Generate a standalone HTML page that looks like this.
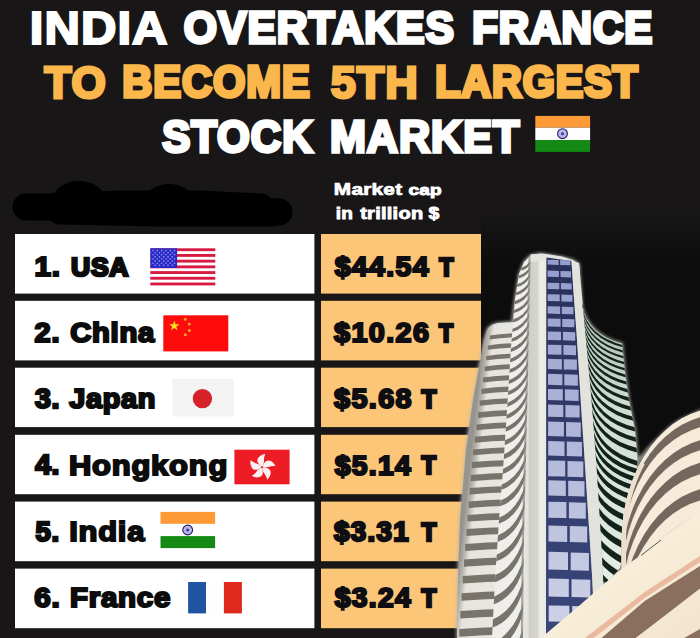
<!DOCTYPE html>
<html><head><meta charset="utf-8">
<style>
html,body{margin:0;padding:0;background:#181617;}
body{width:700px;height:638px;overflow:hidden;font-family:"Liberation Sans",sans-serif;}
svg{display:block}
text{font-family:"Liberation Sans",sans-serif;font-weight:bold;stroke-linejoin:miter}
</style></head><body>
<svg width="700" height="638" viewBox="0 0 700 638">
<rect width="700" height="638" fill="#181617"/>
<!-- TITLE -->
<g id="title">
<text transform="translate(29.8,43.9) scale(1.050,1)" font-size="46.7" letter-spacing="1.0" stroke-width="2.11" fill="#fff" stroke="#fff">INDIA</text>
<text transform="translate(183.8,43.3) scale(0.953,1)" font-size="44.8" letter-spacing="1.0" stroke-width="3.38" fill="#fff" stroke="#fff">OVERTAKES</text>
<text transform="translate(472.2,43.2) scale(0.944,1)" font-size="44.6" letter-spacing="1.0" stroke-width="3.50" fill="#fff" stroke="#fff">FRANCE</text>
<text transform="translate(44.4,97.6) scale(0.985,1)" font-size="44.7" letter-spacing="1.0" stroke-width="3.14" fill="#fbb74c" stroke="#fbb74c">TO</text>
<text transform="translate(122.2,97.4) scale(0.945,1)" font-size="44.1" letter-spacing="1.0" stroke-width="3.58" fill="#fbb74c" stroke="#fbb74c">BECOME</text>
<text transform="translate(330.8,97.8) scale(0.999,1)" font-size="45.1" letter-spacing="1.0" stroke-width="2.90" fill="#fbb74c" stroke="#fbb74c">5TH</text>
<text transform="translate(435.2,97.4) scale(0.939,1)" font-size="43.9" letter-spacing="1.0" stroke-width="3.69" fill="#fbb74c" stroke="#fbb74c">LARGEST</text>
<text transform="translate(162.2,151.5) scale(0.940,1)" font-size="44.8" letter-spacing="1.0" stroke-width="3.41" fill="#fff" stroke="#fff">STOCK</text>
<text transform="translate(329.9,151.6) scale(0.959,1)" font-size="45.0" letter-spacing="1.0" stroke-width="3.28" fill="#fff" stroke="#fff">MARKET</text>
</g>
<!-- TITLE FLAG -->
<g id="tflag">
<rect x="535.3" y="115.9" width="54.8" height="11.8" fill="#fe9a36"/>
<rect x="535.3" y="127.7" width="54.8" height="12.3" fill="#fefefe"/>
<rect x="535.3" y="140" width="54.8" height="11.9" fill="#148a14"/>
<circle cx="562.5" cy="133.7" r="4.9" fill="#b9b6e2" stroke="#20206e" stroke-width="1.1"/>
<circle cx="562.5" cy="133.7" r="1.5" fill="#3a3aa0"/>
</g>
<!-- SCRIBBLE -->
<g id="scribble" fill="none" stroke="#000" stroke-linecap="round" stroke-linejoin="round">
<path d="M26,207 L150,207 L279,212" stroke-width="27"/>
<path d="M60,212 L160,214 L272,214" stroke-width="25"/>
<path d="M55,203 L120,201 L200,201 L262,204" stroke-width="21"/>
<ellipse cx="79" cy="198" rx="25" ry="17" fill="#000" stroke="none"/>
<ellipse cx="169" cy="199" rx="23" ry="15" fill="#000" stroke="none"/>
</g>
<!-- HEADER -->
<g id="header">
<text transform="translate(333.8,194.8) scale(1.308,1)" font-size="15.9" letter-spacing="0.2" stroke-width="0.71" fill="#fff" stroke="#fff">Market</text>
<text transform="translate(408.5,194.7) scale(1.224,1)" font-size="15.5" letter-spacing="0.2" stroke-width="1.00" fill="#fff" stroke="#fff">cap</text>
<text transform="translate(335.8,219.2) scale(1.210,1)" font-size="15.8" letter-spacing="0.2" stroke-width="0.80" fill="#fff" stroke="#fff">in</text>
<text transform="translate(360.2,219.2) scale(1.268,1)" font-size="15.8" letter-spacing="0.2" stroke-width="0.82" fill="#fff" stroke="#fff">trillion</text>
<text transform="translate(428.4,219.2) scale(1.235,1)" font-size="15.8" letter-spacing="0.2" stroke-width="0.80" fill="#fff" stroke="#fff">&#36;</text>
</g>
<!-- BLACKBG -->
<defs><linearGradient id="gbk" gradientUnits="userSpaceOnUse" x1="0" x2="0" y1="212" y2="268"><stop offset="0" stop-color="#0c0c0c" stop-opacity="0"/><stop offset="1" stop-color="#0c0c0c" stop-opacity="1"/></linearGradient></defs>
<rect x="481" y="212" width="219" height="426" fill="url(#gbk)"/>
<!-- ROWS -->
<g id="rows">
<rect x="15" y="234" width="299.4" height="59.6" fill="#fff"/>
<rect x="15" y="300.8" width="299.4" height="59.6" fill="#fff"/>
<rect x="15" y="367.7" width="299.4" height="59.4" fill="#fff"/>
<rect x="15" y="434.8" width="299.4" height="59.4" fill="#fff"/>
<rect x="15" y="501.6" width="299.4" height="59.6" fill="#fff"/>
<rect x="15" y="568.6" width="299.4" height="59.6" fill="#fff"/>
<rect x="321" y="234" width="160" height="59.6" fill="#fcc679"/>
<rect x="321" y="300.8" width="160" height="59.6" fill="#fcc679"/>
<rect x="321" y="367.7" width="160" height="59.4" fill="#fcc679"/>
<rect x="321" y="434.8" width="160" height="59.4" fill="#fcc679"/>
<rect x="321" y="501.6" width="160" height="59.6" fill="#fcc679"/>
<rect x="321" y="568.6" width="160" height="59.6" fill="#fcc679"/>
</g>
<g id="labels">
<text transform="translate(34.4,276.3) scale(1.085,1)" font-size="27.4" letter-spacing="0.7" stroke-width="2.09" fill="#0c0c0c" stroke="#0c0c0c">1.</text>
<text transform="translate(71.1,276.0) scale(0.998,1)" font-size="26.6" letter-spacing="0.7" stroke-width="2.62" fill="#0c0c0c" stroke="#0c0c0c">USA</text>
<text transform="translate(34.6,342.1) scale(1.060,1)" font-size="27.3" letter-spacing="0.7" stroke-width="2.19" fill="#0c0c0c" stroke="#0c0c0c">2.</text>
<text transform="translate(70.2,342.1) scale(1.069,1)" font-size="27.3" letter-spacing="0.7" stroke-width="2.17" fill="#0c0c0c" stroke="#0c0c0c">China</text>
<text transform="translate(34.9,408.2) scale(1.055,1)" font-size="27.1" letter-spacing="0.7" stroke-width="2.28" fill="#0c0c0c" stroke="#0c0c0c">3.</text>
<text transform="translate(69.2,408.2) scale(1.058,1)" font-size="27.2" letter-spacing="0.7" stroke-width="2.24" fill="#0c0c0c" stroke="#0c0c0c">Japan</text>
<text transform="translate(35.2,474.4) scale(1.042,1)" font-size="27.1" letter-spacing="0.7" stroke-width="2.32" fill="#0c0c0c" stroke="#0c0c0c">4.</text>
<text transform="translate(68.9,474.7) scale(1.118,1)" font-size="27.7" letter-spacing="0.7" stroke-width="1.88" fill="#0c0c0c" stroke="#0c0c0c">Hongkong</text>
<text transform="translate(35.6,540.7) scale(1.016,1)" font-size="27.0" letter-spacing="0.7" stroke-width="2.38" fill="#0c0c0c" stroke="#0c0c0c">5.</text>
<text transform="translate(69.2,541.0) scale(1.112,1)" font-size="27.8" letter-spacing="0.7" stroke-width="1.84" fill="#0c0c0c" stroke="#0c0c0c">India</text>
<text transform="translate(34.3,607.2) scale(1.082,1)" font-size="27.4" letter-spacing="0.7" stroke-width="2.09" fill="#0c0c0c" stroke="#0c0c0c">6.</text>
<text transform="translate(70.0,607.1) scale(1.078,1)" font-size="27.3" letter-spacing="0.7" stroke-width="2.13" fill="#0c0c0c" stroke="#0c0c0c">France</text>
</g>
<g id="values">
<text transform="translate(334.7,276.2) scale(1.049,1)" font-size="27.1" letter-spacing="1.3" stroke-width="2.13" fill="#0d0d12" stroke="#0d0d12">&#36;44.54</text>
<text transform="translate(439.2,275.9) scale(0.891,1)" font-size="26.2" letter-spacing="1.3" stroke-width="2.70" fill="#0d0d12" stroke="#0d0d12">T</text>
<text transform="translate(334.1,342.2) scale(1.062,1)" font-size="27.1" letter-spacing="1.3" stroke-width="2.08" fill="#0d0d12" stroke="#0d0d12">&#36;10.26</text>
<text transform="translate(439.1,341.8) scale(0.880,1)" font-size="26.2" letter-spacing="1.3" stroke-width="2.70" fill="#0d0d12" stroke="#0d0d12">T</text>
<text transform="translate(334.1,408.3) scale(1.061,1)" font-size="27.1" letter-spacing="1.3" stroke-width="2.08" fill="#0d0d12" stroke="#0d0d12">&#36;5.68</text>
<text transform="translate(421.6,407.9) scale(0.927,1)" font-size="26.2" letter-spacing="1.3" stroke-width="2.70" fill="#0d0d12" stroke="#0d0d12">T</text>
<text transform="translate(334.7,474.5) scale(1.045,1)" font-size="27.0" letter-spacing="1.3" stroke-width="2.14" fill="#0d0d12" stroke="#0d0d12">&#36;5.14</text>
<text transform="translate(421.6,474.2) scale(0.911,1)" font-size="26.2" letter-spacing="1.3" stroke-width="2.70" fill="#0d0d12" stroke="#0d0d12">T</text>
<text transform="translate(334.1,540.7) scale(1.032,1)" font-size="26.8" letter-spacing="1.3" stroke-width="2.31" fill="#0d0d12" stroke="#0d0d12">&#36;3.31</text>
<text transform="translate(421.6,540.5) scale(0.927,1)" font-size="26.2" letter-spacing="1.3" stroke-width="2.70" fill="#0d0d12" stroke="#0d0d12">T</text>
<text transform="translate(334.7,607.1) scale(1.045,1)" font-size="27.0" letter-spacing="1.3" stroke-width="2.14" fill="#0d0d12" stroke="#0d0d12">&#36;3.24</text>
<text transform="translate(421.6,606.8) scale(0.927,1)" font-size="26.2" letter-spacing="1.3" stroke-width="2.70" fill="#0d0d12" stroke="#0d0d12">T</text>
</g>
<!-- FLAGS -->
<g id="flags">
<!-- US -->
<g>
<rect x="150.3" y="248.3" width="65" height="37.1" fill="#fdfdfd"/>
<g fill="#d81a42">
<rect x="150.3" y="248.30" width="65" height="2.85"/><rect x="150.3" y="254.01" width="65" height="2.85"/><rect x="150.3" y="259.72" width="65" height="2.85"/><rect x="150.3" y="265.42" width="65" height="2.85"/><rect x="150.3" y="271.13" width="65" height="2.85"/><rect x="150.3" y="276.84" width="65" height="2.85"/><rect x="150.3" y="282.55" width="65" height="2.85"/>
</g>
<rect x="150.3" y="248.3" width="26.8" height="19.7" fill="#2a2ac8"/>
<g fill="#9a9af0">
<circle cx="153" cy="250.6" r=".8"/><circle cx="157.3" cy="250.6" r=".8"/><circle cx="161.6" cy="250.6" r=".8"/><circle cx="165.9" cy="250.6" r=".8"/><circle cx="170.2" cy="250.6" r=".8"/><circle cx="174.5" cy="250.6" r=".8"/>
<circle cx="155.1" cy="252.7" r=".8"/><circle cx="159.4" cy="252.7" r=".8"/><circle cx="163.7" cy="252.7" r=".8"/><circle cx="168" cy="252.7" r=".8"/><circle cx="172.3" cy="252.7" r=".8"/>
<circle cx="153" cy="254.8" r=".8"/><circle cx="157.3" cy="254.8" r=".8"/><circle cx="161.6" cy="254.8" r=".8"/><circle cx="165.9" cy="254.8" r=".8"/><circle cx="170.2" cy="254.8" r=".8"/><circle cx="174.5" cy="254.8" r=".8"/>
<circle cx="155.1" cy="256.9" r=".8"/><circle cx="159.4" cy="256.9" r=".8"/><circle cx="163.7" cy="256.9" r=".8"/><circle cx="168" cy="256.9" r=".8"/><circle cx="172.3" cy="256.9" r=".8"/>
<circle cx="153" cy="259" r=".8"/><circle cx="157.3" cy="259" r=".8"/><circle cx="161.6" cy="259" r=".8"/><circle cx="165.9" cy="259" r=".8"/><circle cx="170.2" cy="259" r=".8"/><circle cx="174.5" cy="259" r=".8"/>
<circle cx="155.1" cy="261.1" r=".8"/><circle cx="159.4" cy="261.1" r=".8"/><circle cx="163.7" cy="261.1" r=".8"/><circle cx="168" cy="261.1" r=".8"/><circle cx="172.3" cy="261.1" r=".8"/>
<circle cx="153" cy="263.2" r=".8"/><circle cx="157.3" cy="263.2" r=".8"/><circle cx="161.6" cy="263.2" r=".8"/><circle cx="165.9" cy="263.2" r=".8"/><circle cx="170.2" cy="263.2" r=".8"/><circle cx="174.5" cy="263.2" r=".8"/>
<circle cx="155.1" cy="265.3" r=".8"/><circle cx="159.4" cy="265.3" r=".8"/><circle cx="163.7" cy="265.3" r=".8"/><circle cx="168" cy="265.3" r=".8"/><circle cx="172.3" cy="265.3" r=".8"/>
</g>
</g>
<!-- CHINA -->
<g>
<rect x="163.3" y="315.3" width="65" height="36.1" fill="#fe0b0b"/>
<path id="star" d="M0,-1 L0.2245,-0.309 L0.951,-0.309 L0.363,0.118 L0.588,0.809 L0,0.382 L-0.588,0.809 L-0.363,0.118 L-0.951,-0.309 L-0.2245,-0.309Z" transform="translate(174.3,326) scale(5.4)" fill="#f6e21a"/>
<g fill="#f5a42c"><circle cx="185.3" cy="319.3" r="1.5"/><circle cx="189.3" cy="323.9" r="1.5"/><circle cx="189.3" cy="330.4" r="1.5"/><circle cx="185.3" cy="334.7" r="1.5"/></g>
</g>
<!-- JAPAN -->
<g>
<rect x="172.4" y="378.7" width="61.3" height="37.7" fill="#f3f3f3"/>
<circle cx="202.4" cy="398.6" r="9.7" fill="#d4212a"/>
</g>
<!-- HK -->
<g>
<rect x="234.4" y="449.7" width="55.2" height="34.6" fill="#ee1c25"/>
<g transform="translate(262.1,467.2)" fill="#fbf3f3">
<path id="pet" d="M0,-0.9 C-3,-2 -6.6,-6 -3.6,-9.6 C-1.6,-12 1,-12.9 3.3,-13.1 C2.2,-11 1.9,-9 1.9,-7 C1.9,-4.5 1.4,-2.5 0.7,-0.9Z"/>
<path d="M0,-0.9 C-3,-2 -6.6,-6 -3.6,-9.6 C-1.6,-12 1,-12.9 3.3,-13.1 C2.2,-11 1.9,-9 1.9,-7 C1.9,-4.5 1.4,-2.5 0.7,-0.9Z" transform="rotate(72)"/>
<path d="M0,-0.9 C-3,-2 -6.6,-6 -3.6,-9.6 C-1.6,-12 1,-12.9 3.3,-13.1 C2.2,-11 1.9,-9 1.9,-7 C1.9,-4.5 1.4,-2.5 0.7,-0.9Z" transform="rotate(144)"/>
<path d="M0,-0.9 C-3,-2 -6.6,-6 -3.6,-9.6 C-1.6,-12 1,-12.9 3.3,-13.1 C2.2,-11 1.9,-9 1.9,-7 C1.9,-4.5 1.4,-2.5 0.7,-0.9Z" transform="rotate(216)"/>
<path d="M0,-0.9 C-3,-2 -6.6,-6 -3.6,-9.6 C-1.6,-12 1,-12.9 3.3,-13.1 C2.2,-11 1.9,-9 1.9,-7 C1.9,-4.5 1.4,-2.5 0.7,-0.9Z" transform="rotate(288)"/>
</g>
</g>
<!-- INDIA -->
<g>
<rect x="160.5" y="511.9" width="54.6" height="12" fill="#fe9a36"/>
<rect x="160.5" y="523.9" width="54.6" height="12.2" fill="#fefefe"/>
<rect x="160.5" y="536.1" width="54.6" height="12" fill="#148a14"/>
<circle cx="187.7" cy="530" r="4.9" fill="#b9b6e2" stroke="#20206e" stroke-width="1.1"/>
<circle cx="187.7" cy="530" r="1.5" fill="#3a3aa0"/>
</g>
<!-- FRANCE -->
<g>
<rect x="188.1" y="582" width="18" height="31.4" fill="#1f54a3"/>
<rect x="206.1" y="582" width="17.8" height="31.4" fill="#fefefe"/>
<rect x="223.9" y="582" width="18" height="31.4" fill="#de2a1c"/>
</g>
</g>
<!-- BUILDING -->
<g id="building">
<defs>
<filter id="bl3" x="-20%" y="-20%" width="140%" height="140%"><feGaussianBlur stdDeviation="1.8"/></filter>
<filter id="bl1"><feGaussianBlur stdDeviation="0.7"/></filter>
<linearGradient id="gcol" x1="0" x2="1" y1="0" y2="0"><stop offset="0" stop-color="#eaeae5"/><stop offset=".2" stop-color="#e2e2dc"/><stop offset=".28" stop-color="#cfcfc8"/><stop offset=".62" stop-color="#d6d6cf"/><stop offset=".72" stop-color="#eeeee9"/><stop offset="1" stop-color="#e9e9e3"/></linearGradient>
<linearGradient id="gnavy" x1="0" x2="0" y1="0" y2="1"><stop offset="0" stop-color="#2a3059"/><stop offset="1" stop-color="#3a477c"/></linearGradient>
<linearGradient id="gwin" gradientUnits="userSpaceOnUse" x1="0" x2="0" y1="255" y2="630"><stop offset="0" stop-color="#929ccd"/><stop offset=".45" stop-color="#aeb5d8"/><stop offset="1" stop-color="#cfd2e6"/></linearGradient>
<clipPath id="cLT"><path d="M487,330 Q489,325 498,323 L514,322 L514,638 L457,638 L458,580 L460,520 L466,450 L473,400 L484,340Z"/></clipPath>
<clipPath id="cMTL"><polygon points="530.0,256.0 524.0,262.0 519.0,274.0 515.0,299.0 511.0,347.0 508.0,395.0 503.0,470.0 499.0,520.0 495.0,580.0 492.0,638.0 523.0,638.0 524.0,540.0 527.7,390.0 530.7,254.0"/></clipPath>
<linearGradient id="gLT" gradientUnits="userSpaceOnUse" x1="483" x2="540.6" y1="340" y2="346.3"><stop offset="0" stop-color="#96948e"/><stop offset=".09" stop-color="#bab8b1"/><stop offset=".17" stop-color="#e6e4de"/><stop offset="1" stop-color="#e9e7e2"/></linearGradient>
</defs>
<path d="M487,330 Q489,325 498,323 L512,322 L515,299 L519,274 L524,262 L530,256 L540,253.5 L562,257 L573,260 L579,264 L582,306 Q589,335 622,343.5 L625,372 L629,400 L635,430 L637.5,458 L641.3,456.3 L650,446.3 L660,436.3 L670,427 L680,420 L700,410.6 L700,638 L457,638 L458,580 L460,520 L466,450 L473,400 L484,340Z" fill="#b4b4b0" stroke="#b4b4b0" stroke-width="2.5" filter="url(#bl3)" opacity=".7"/>
<path d="M487,330 Q489,325 498,323 L514,322 L514,638 L457,638 L458,580 L460,520 L466,450 L473,400 L484,340Z" fill="url(#gLT)"/>
<g clip-path="url(#cLT)">
<path d="M489.8,335.5 Q502.9,333.4 516,333.2 L516,337.2 Q502.9,337.4 489.8,339.5Z" fill="#78736b"/>
<path d="M487.7,345.5 Q501.8,343.4 516,343.2 L516,347.5 Q501.8,347.7 487.7,349.8Z" fill="#78736b"/>
<path d="M486.2,355.9 Q501.1,353.8 516,353.6 L516,358.0 Q501.1,358.2 486.2,360.3Z" fill="#78736b"/>
<path d="M484.6,366.5 Q500.3,364.4 516,364.2 L516,368.9 Q500.3,369.1 484.6,371.2Z" fill="#78736b"/>
<path d="M483.0,377.5 Q499.5,375.4 516,375.2 L516,380.1 Q499.5,380.3 483.0,382.4Z" fill="#78736b"/>
<path d="M481.4,388.7 Q498.7,386.6 516,386.4 L516,391.6 Q498.7,391.8 481.4,393.9Z" fill="#78736b"/>
<path d="M479.7,400.4 Q497.8,398.3 516,398.1 L516,403.5 Q497.8,403.7 479.7,405.8Z" fill="#78736b"/>
<path d="M478.0,412.3 Q497.0,410.2 516,410.0 L516,415.6 Q497.0,415.8 478.0,417.9Z" fill="#78736b"/>
<path d="M476.4,424.5 Q496.2,422.4 516,422.2 L516,427.9 Q496.2,428.1 476.4,430.2Z" fill="#78736b"/>
<path d="M474.7,436.8 Q495.4,434.7 516,434.5 L516,440.4 Q495.4,440.6 474.7,442.7Z" fill="#78736b"/>
<path d="M473.0,449.4 Q494.5,447.3 516,447.1 L516,453.0 Q494.5,453.2 473.0,455.3Z" fill="#78736b"/>
<path d="M471.8,462.1 Q493.9,460.0 516,459.8 L516,465.9 Q493.9,466.1 471.8,468.2Z" fill="#78736b"/>
<path d="M470.8,475.0 Q493.4,472.9 516,472.7 L516,478.9 Q493.4,479.1 470.8,481.2Z" fill="#78736b"/>
<path d="M469.7,488.1 Q492.9,486.0 516,485.8 L516,492.2 Q492.9,492.4 469.7,494.5Z" fill="#78736b"/>
<path d="M468.6,501.4 Q492.3,499.3 516,499.1 L516,505.6 Q492.3,505.8 468.6,507.9Z" fill="#78736b"/>
<path d="M467.5,514.9 Q491.8,512.8 516,512.6 L516,519.3 Q491.8,519.5 467.5,521.6Z" fill="#78736b"/>
<path d="M466.4,529.1 Q491.2,527.0 516,526.8 L516,533.6 Q491.2,533.8 466.4,535.9Z" fill="#78736b"/>
<path d="M465.2,543.9 Q490.6,541.8 516,541.6 L516,548.7 Q490.6,548.9 465.2,551.0Z" fill="#78736b"/>
<path d="M464.0,559.5 Q490.0,557.4 516,557.2 L516,564.5 Q490.0,564.7 464.0,566.8Z" fill="#78736b"/>
<path d="M462.6,576.0 Q489.3,573.9 516,573.7 L516,581.2 Q489.3,581.4 462.6,583.5Z" fill="#78736b"/>
<path d="M461.5,593.2 Q488.7,591.1 516,590.9 L516,598.5 Q488.7,598.7 461.5,600.8Z" fill="#78736b"/>
<path d="M460.3,610.9 Q488.2,608.8 516,608.6 L516,616.3 Q488.2,616.5 460.3,618.6Z" fill="#78736b"/>
<path d="M459.2,628.9 Q487.6,626.8 516,626.6 L516,634.5 Q487.6,634.7 459.2,636.8Z" fill="#78736b"/>
</g>
<polygon points="530.0,256.0 524.0,262.0 519.0,274.0 515.0,299.0 511.0,347.0 508.0,395.0 503.0,470.0 499.0,520.0 495.0,580.0 492.0,638.0 523.0,638.0 524.0,540.0 527.7,390.0 530.7,254.0" fill="#efeeea"/>
<g clip-path="url(#cMTL)">
<path d="M520.5,268.0 Q528.3,266.0 531.4,258.7 L531.4,262.1 Q528.3,269.1 520.5,270.6Z" fill="#77746e"/>
<path d="M517.7,276.0 Q527.4,273.5 531.2,264.4 L531.2,267.8 Q527.4,276.7 517.7,278.7Z" fill="#77746e"/>
<path d="M516.4,284.3 Q526.9,281.5 531.0,271.4 L531.0,274.9 Q526.9,284.8 516.4,287.1Z" fill="#77746e"/>
<path d="M515.0,292.8 Q526.4,289.7 530.8,278.6 L530.8,282.2 Q526.4,293.1 515.0,295.6Z" fill="#77746e"/>
<path d="M513.8,301.5 Q525.9,298.2 530.7,286.2 L530.7,289.9 Q525.9,301.7 513.8,304.4Z" fill="#77746e"/>
<path d="M513.0,310.5 Q525.6,306.9 530.5,294.3 L530.5,298.1 Q525.6,310.6 513.0,313.5Z" fill="#77746e"/>
<path d="M512.3,319.7 Q525.2,316.0 530.3,302.7 L530.3,306.6 Q525.2,319.7 512.3,322.8Z" fill="#77746e"/>
<path d="M511.5,329.2 Q524.8,325.2 530.0,311.3 L530.0,315.3 Q524.8,329.1 511.5,332.3Z" fill="#77746e"/>
<path d="M510.7,338.9 Q524.5,334.7 529.8,320.0 L529.8,324.2 Q524.5,338.7 510.7,342.1Z" fill="#77746e"/>
<path d="M509.9,348.8 Q524.1,344.5 529.6,329.1 L529.6,333.3 Q524.1,348.5 509.9,352.2Z" fill="#77746e"/>
<path d="M509.2,359.1 Q523.7,354.6 529.4,338.5 L529.4,342.9 Q523.7,358.7 509.2,362.5Z" fill="#77746e"/>
<path d="M508.6,369.6 Q523.4,364.9 529.1,348.2 L529.1,352.7 Q523.4,369.2 508.6,373.1Z" fill="#77746e"/>
<path d="M507.9,380.5 Q523.0,375.6 528.9,358.1 L528.9,362.7 Q523.0,380.0 507.9,384.1Z" fill="#77746e"/>
<path d="M507.2,391.6 Q522.7,386.5 528.7,368.3 L528.7,373.1 Q522.7,391.0 507.2,395.3Z" fill="#77746e"/>
<path d="M506.5,403.1 Q522.2,397.7 528.4,378.8 L528.4,383.7 Q522.2,402.4 506.5,406.9Z" fill="#77746e"/>
<path d="M505.7,415.0 Q521.8,409.4 528.1,389.6 L528.1,394.8 Q521.8,414.3 505.7,419.0Z" fill="#77746e"/>
<path d="M504.8,427.5 Q521.4,421.6 527.8,401.0 L527.8,406.4 Q521.4,426.9 504.8,431.8Z" fill="#77746e"/>
<path d="M504.0,440.7 Q520.9,434.6 527.4,412.9 L527.4,418.7 Q520.9,440.1 504.0,445.2Z" fill="#77746e"/>
<path d="M503.0,454.6 Q520.4,448.2 527.1,425.6 L527.1,431.7 Q520.4,454.1 503.0,459.4Z" fill="#77746e"/>
<path d="M502.0,469.3 Q519.8,462.7 526.7,439.3 L526.7,445.7 Q519.8,468.8 502.0,474.3Z" fill="#77746e"/>
<path d="M500.8,484.8 Q519.2,477.9 526.4,453.4 L526.4,460.1 Q519.2,484.3 500.8,490.1Z" fill="#77746e"/>
<path d="M499.5,501.0 Q518.6,493.8 526.0,468.1 L526.0,475.2 Q518.6,500.5 499.5,506.6Z" fill="#77746e"/>
<path d="M498.2,518.1 Q517.9,510.5 525.5,483.6 L525.5,491.0 Q517.9,517.6 498.2,523.9Z" fill="#77746e"/>
<path d="M496.9,536.0 Q517.2,528.1 525.1,500.1 L525.1,507.9 Q517.2,535.6 496.9,542.2Z" fill="#77746e"/>
<path d="M495.7,555.1 Q516.7,546.8 524.8,517.3 L524.8,525.8 Q516.7,554.8 495.7,561.6Z" fill="#77746e"/>
<path d="M494.3,575.4 Q516.1,566.6 524.6,535.6 L524.6,544.6 Q516.1,575.2 494.3,582.4Z" fill="#77746e"/>
<path d="M493.1,597.1 Q515.7,587.9 524.4,555.5 L524.4,564.9 Q515.7,597.0 493.1,604.5Z" fill="#77746e"/>
<path d="M491.9,619.9 Q515.2,610.4 524.2,576.4 L524.2,586.3 Q515.2,619.9 491.9,627.7Z" fill="#77746e"/>
<path d="M491.0,643.9 Q514.8,634.1 524.0,599.4 L524.0,609.8 Q514.8,644.1 491.0,652.1Z" fill="#77746e"/>
<path d="M491.0,669.1 Q514.8,659.3 524.0,624.5 L524.0,635.3 Q514.8,669.6 491.0,677.5Z" fill="#77746e"/>
<path d="M491.0,695.2 Q514.8,685.4 524.0,650.6 L524.0,661.8 Q514.8,696.1 491.0,703.9Z" fill="#77746e"/>
<path d="M491.0,722.2 Q514.8,712.4 524.0,677.7 L524.0,689.3 Q514.8,723.5 491.0,731.3Z" fill="#77746e"/>
<path d="M491.0,750.2 Q514.8,740.4 524.0,705.7 L524.0,717.3 Q514.8,751.5 491.0,759.3Z" fill="#77746e"/>
<polygon points="528.5,254.0 525.5,390.0 521.8,540.0 520.8,638.0 523.0,638.0 524.0,540.0 527.7,390.0 530.7,254.0" fill="#8a8984" opacity=".7"/>
</g>
<polygon points="530.7,254.0 527.7,390.0 524.0,540.0 523.0,638.0 546.0,638.0 546.5,254.0" fill="url(#gcol)"/>
<path d="M530.7,256 Q538,252.5 546.5,254 L562,256.5 L573,260 L579,264 L580,275 L571.5,266 L546.5,260 L530.7,262Z" fill="#e4e4df"/>
<polygon points="546.5,257.5 546.0,638.0 595.0,638.0 592.0,575.0 588.5,520.0 585.0,465.0 581.0,405.0 577.0,340.0 573.0,285.0 571.5,261.0" fill="url(#gnavy)"/>
<path d="M547.6,259.7 L558.6,260.0 L558.6,264.9 L547.6,264.6Z M560.1,260.0 L570.3,260.4 L570.3,265.3 L560.1,264.9Z" fill="url(#gwin)"/>
<path d="M547.6,270.6 L558.9,270.9 L558.9,277.0 L547.6,276.7Z M560.5,270.9 L571.0,271.3 L571.0,277.4 L560.5,277.0Z" fill="url(#gwin)"/>
<path d="M547.6,282.8 L559.3,283.1 L559.3,289.2 L547.6,288.9Z M560.9,283.1 L571.7,283.5 L571.7,289.6 L560.9,289.2Z" fill="url(#gwin)"/>
<path d="M547.7,294.2 L559.7,294.5 L559.7,301.3 L547.7,301.0Z M561.4,294.6 L572.5,294.9 L572.5,301.7 L561.4,301.4Z" fill="url(#gwin)"/>
<path d="M547.7,306.3 L560.1,306.6 L560.1,313.9 L547.7,313.6Z M561.8,306.7 L573.4,307.0 L573.4,314.3 L561.8,314.0Z" fill="url(#gwin)"/>
<path d="M547.8,318.5 L560.6,318.8 L560.6,326.8 L547.8,326.5Z M562.3,318.9 L574.3,319.3 L574.3,327.3 L562.3,326.9Z" fill="url(#gwin)"/>
<path d="M547.8,331.4 L561.0,331.7 L561.0,340.2 L547.8,339.9Z M562.9,331.8 L575.2,332.2 L575.2,340.7 L562.9,340.3Z" fill="url(#gwin)"/>
<path d="M547.9,344.7 L561.5,345.0 L561.5,354.7 L547.9,354.4Z M563.4,345.1 L576.0,345.5 L576.0,355.2 L563.4,354.8Z" fill="url(#gwin)"/>
<path d="M547.9,358.8 L561.9,359.2 L561.9,369.4 L547.9,369.0Z M563.8,359.2 L576.9,359.6 L576.9,369.8 L563.8,369.4Z" fill="url(#gwin)"/>
<path d="M548.0,373.8 L562.4,374.2 L562.4,385.2 L548.0,384.8Z M564.3,374.2 L577.8,374.7 L577.8,385.7 L564.3,385.2Z" fill="url(#gwin)"/>
<path d="M548.0,388.9 L562.8,389.3 L562.8,400.4 L548.0,400.0Z M564.9,389.3 L578.6,389.8 L578.6,400.9 L564.9,400.4Z" fill="url(#gwin)"/>
<path d="M548.1,404.6 L563.3,405.0 L563.3,417.1 L548.1,416.7Z M565.4,405.1 L579.6,405.5 L579.6,417.6 L565.4,417.2Z" fill="url(#gwin)"/>
<path d="M548.1,421.6 L563.9,422.0 L563.9,436.5 L548.1,436.1Z M566.1,422.1 L580.8,422.6 L580.8,437.1 L566.1,436.6Z" fill="url(#gwin)"/>
<path d="M548.2,441.0 L564.5,441.4 L564.5,456.0 L548.2,455.6Z M566.8,441.5 L582.0,442.0 L582.0,456.6 L566.8,456.1Z" fill="url(#gwin)"/>
<path d="M548.2,460.4 L565.2,460.8 L565.2,476.6 L548.2,476.2Z M567.5,460.9 L583.3,461.4 L583.3,477.2 L567.5,476.7Z" fill="url(#gwin)"/>
<path d="M548.3,480.3 L565.8,480.7 L565.8,496.0 L548.3,495.6Z M568.2,480.8 L584.5,481.3 L584.5,496.6 L568.2,496.1Z" fill="url(#gwin)"/>
<path d="M548.4,501.7 L566.4,502.1 L566.4,518.1 L548.4,517.7Z M568.9,502.2 L585.8,502.8 L585.8,518.8 L568.9,518.2Z" fill="url(#gwin)"/>
<path d="M548.5,525.5 L567.2,525.9 L567.2,541.9 L548.5,541.5Z M569.8,526.0 L587.2,526.6 L587.2,542.6 L569.8,542.0Z" fill="url(#gwin)"/>
<path d="M548.5,551.8 L568.0,552.3 L568.0,570.1 L548.5,569.6Z M570.7,552.4 L588.9,552.9 L588.9,570.7 L570.7,570.2Z" fill="url(#gwin)"/>
<path d="M548.6,578.6 L568.8,579.1 L568.8,596.9 L548.6,596.4Z M571.5,579.2 L590.3,579.7 L590.3,597.5 L571.5,597.0Z" fill="url(#gwin)"/>
<path d="M548.7,605.4 L569.4,605.8 L569.4,621.8 L548.7,621.4Z M572.2,605.9 L591.5,606.5 L591.5,622.5 L572.2,621.9Z" fill="url(#gwin)"/>
<path d="M548.7,633.0 L569.9,633.5 L569.9,650.5 L548.7,650.0Z M572.8,633.5 L592.6,634.1 L592.6,651.1 L572.8,650.5Z" fill="url(#gwin)"/>
<polygon points="571.5,261.0 573.0,285.0 577.0,340.0 581.0,405.0 585.0,465.0 588.5,520.0 592.0,575.0 595.0,638.0 606.0,638.0 603.0,575.0 600.0,520.0 596.5,465.0 592.0,405.0 586.0,340.0 581.0,285.0 579.0,263.0" fill="#e3e3de"/>
<defs>
<clipPath id="cW"><path d="M582,306 Q589,335 622,343.5 L625,372 L629,400 L635,430 L637.5,458 L637.2,470 L631.2,485 L626.8,500 L623.3,520 L622.0,541 L622.0,560 L620,568 L607.7,582 L603.3,582 L601.1,540 L596.8,470 L591.1,395 L585.1,330 L582.6,303Z"/></clipPath>
<clipPath id="cD"><ellipse cx="719.3" cy="541.4" rx="97.8" ry="133.2"/><rect x="621.5" y="541.4" width="100" height="100"/></clipPath>
<linearGradient id="gwing" gradientUnits="userSpaceOnUse" x1="0" x2="0" y1="305" y2="580"><stop offset="0" stop-color="#aab8ac"/><stop offset=".35" stop-color="#cfdcd0"/><stop offset="1" stop-color="#e4ece6"/></linearGradient>
<linearGradient id="gdrum" gradientUnits="userSpaceOnUse" x1="621" x2="700" y1="0" y2="0"><stop offset="0" stop-color="#e6d8c6"/><stop offset=".2" stop-color="#f6ecdb"/><stop offset="1" stop-color="#f6ead8"/></linearGradient>
<linearGradient id="gcan" gradientUnits="userSpaceOnUse" x1="600" x2="680" y1="560" y2="660"><stop offset="0" stop-color="#f8f0da"/><stop offset="1" stop-color="#f3e3cf"/></linearGradient>
</defs>
<path d="M582,306 Q589,335 622,343.5 L625,372 L629,400 L635,430 L637.5,458 L637.2,470 L631.2,485 L626.8,500 L623.3,520 L622.0,541 L622.0,560 L620,568 L607.7,582 L603.3,582 L601.1,540 L596.8,470 L591.1,395 L585.1,330 L582.6,303Z" fill="url(#gwing)"/>
<g clip-path="url(#cW)">
<path d="M578.0,262.0 Q583.9,293.8 623.5,303.9 L623.5,305.9 Q583.9,295.8 578.0,264.0Z" fill="#11231a"/>
<path d="M578.4,267.0 Q584.2,298.6 623.5,308.5 L623.5,310.5 Q584.2,300.6 578.4,269.0Z" fill="#11231a"/>
<path d="M578.8,272.0 Q584.6,303.2 623.5,313.1 L623.5,315.1 Q584.6,305.2 578.8,274.0Z" fill="#11231a"/>
<path d="M579.3,277.0 Q585.0,307.9 623.5,317.7 L623.5,319.7 Q585.0,309.9 579.3,279.0Z" fill="#11231a"/>
<path d="M579.7,282.0 Q585.4,312.6 623.5,322.3 L623.5,324.3 Q585.4,314.6 579.7,284.0Z" fill="#11231a"/>
<path d="M580.2,287.0 Q585.8,317.3 623.5,326.9 L623.5,328.9 Q585.8,319.3 580.2,289.0Z" fill="#11231a"/>
<path d="M580.6,292.0 Q586.2,322.0 623.5,331.4 L623.5,333.4 Q586.2,324.0 580.6,294.0Z" fill="#11231a"/>
<path d="M581.1,297.0 Q586.6,326.7 623.5,336.0 L623.5,338.0 Q586.6,328.7 581.1,299.0Z" fill="#11231a"/>
<path d="M581.5,302.0 Q587.0,331.3 623.5,340.6 L623.5,342.6 Q587.0,333.4 581.5,304.0Z" fill="#11231a"/>
<path d="M582.0,307.1 Q587.4,336.2 623.7,345.4 L623.7,347.6 Q587.4,338.4 582.0,309.2Z" fill="#11231a"/>
<path d="M582.5,312.4 Q587.9,341.6 624.3,350.8 L624.3,353.1 Q587.9,343.9 582.5,314.6Z" fill="#11231a"/>
<path d="M583.0,317.9 Q588.4,347.2 624.9,356.5 L624.9,358.8 Q588.4,349.6 583.0,320.3Z" fill="#11231a"/>
<path d="M583.5,323.7 Q589.0,353.0 625.5,362.3 L625.5,364.8 Q589.0,355.5 583.5,326.2Z" fill="#11231a"/>
<path d="M584.1,329.7 Q589.5,359.1 626.1,368.4 L626.1,371.0 Q589.5,361.8 584.1,332.3Z" fill="#11231a"/>
<path d="M584.6,336.0 Q590.1,365.6 626.9,374.9 L626.9,377.7 Q590.1,368.4 584.6,338.8Z" fill="#11231a"/>
<path d="M585.3,342.8 Q590.8,372.6 627.9,382.0 L627.9,385.1 Q590.8,375.6 585.3,345.8Z" fill="#11231a"/>
<path d="M585.9,350.0 Q591.5,380.1 629.0,389.6 L629.0,392.9 Q591.5,383.4 585.9,353.3Z" fill="#11231a"/>
<path d="M586.6,357.7 Q592.3,388.2 630.2,397.8 L630.2,401.4 Q592.3,391.7 586.6,361.3Z" fill="#11231a"/>
<path d="M587.4,366.0 Q593.2,397.2 631.9,407.0 L631.9,410.8 Q593.2,401.0 587.4,369.9Z" fill="#11231a"/>
<path d="M588.2,375.0 Q594.2,406.9 633.9,417.0 L633.9,421.0 Q594.2,410.9 588.2,379.0Z" fill="#11231a"/>
<path d="M589.1,384.4 Q595.2,417.2 636.0,427.6 L636.0,431.8 Q595.2,421.5 589.1,388.7Z" fill="#11231a"/>
<path d="M590.0,394.4 Q596.2,427.4 637.2,437.8 L637.2,442.2 Q596.2,431.8 590.0,398.8Z" fill="#11231a"/>
<path d="M591.0,404.9 Q597.1,437.8 638.1,448.2 L638.1,452.9 Q597.1,442.5 591.0,409.5Z" fill="#11231a"/>
<path d="M591.8,415.9 Q598.4,451.1 642.1,462.2 L642.1,467.0 Q598.4,455.9 591.8,420.7Z" fill="#11231a"/>
<path d="M592.7,427.4 Q599.3,458.6 638.6,469.2 L638.6,474.2 Q599.3,463.6 592.7,432.3Z" fill="#11231a"/>
<path d="M593.6,439.2 Q600.5,466.4 635.3,476.7 L635.3,481.8 Q600.5,471.5 593.6,444.3Z" fill="#11231a"/>
<path d="M594.5,451.4 Q601.6,474.9 632.3,484.8 L632.3,490.0 Q601.6,480.2 594.5,456.6Z" fill="#11231a"/>
<path d="M595.4,463.9 Q602.6,484.2 629.5,493.6 L629.5,499.2 Q602.6,489.8 595.4,469.6Z" fill="#11231a"/>
<path d="M596.3,477.3 Q603.5,494.6 627.0,503.5 L627.0,509.5 Q603.5,500.6 596.3,483.3Z" fill="#11231a"/>
<path d="M597.2,491.5 Q604.4,506.3 625.0,514.8 L625.0,521.1 Q604.4,512.6 597.2,497.9Z" fill="#11231a"/>
<path d="M598.1,506.6 Q605.5,519.3 623.5,527.4 L623.5,534.0 Q605.5,525.9 598.1,513.2Z" fill="#11231a"/>
<path d="M599.1,522.4 Q606.7,533.5 623.0,541.5 L623.0,548.5 Q606.7,540.5 599.1,529.4Z" fill="#11231a"/>
<path d="M600.0,539.0 Q608.0,548.9 623.0,557.0 L623.0,564.2 Q608.0,556.1 600.0,546.2Z" fill="#11231a"/>
<path d="M601.0,556.2 Q608.7,565.6 623.0,573.4 L623.0,580.7 Q608.7,572.9 601.0,563.5Z" fill="#11231a"/>
<path d="M601.9,573.6 Q609.3,582.6 623.0,590.0 L623.0,597.4 Q609.3,590.0 601.9,581.0Z" fill="#11231a"/>
<path d="M602.8,591.2 Q609.9,599.9 623.0,607.0 L623.0,614.5 Q609.9,607.4 602.8,598.7Z" fill="#11231a"/>
</g>
<g clip-path="url(#cD)">
<rect x="600" y="400" width="100" height="238" fill="url(#gdrum)"/>
<ellipse cx="719.3" cy="547.8" rx="97.8" ry="133.2" fill="#74675d"/>
<ellipse cx="719.3" cy="557.8" rx="97.8" ry="133.2" fill="url(#gdrum)"/>
<ellipse cx="719.3" cy="570.8" rx="97.8" ry="133.2" fill="#74675d"/>
<ellipse cx="719.3" cy="580.8" rx="97.8" ry="133.2" fill="url(#gdrum)"/>
<ellipse cx="719.3" cy="593.4" rx="97.8" ry="133.2" fill="#74675d"/>
<ellipse cx="719.3" cy="604.8" rx="97.8" ry="133.2" fill="url(#gdrum)"/>
<ellipse cx="719.3" cy="619.8" rx="97.8" ry="133.2" fill="#74675d"/>
<ellipse cx="719.3" cy="631.1" rx="97.8" ry="133.2" fill="url(#gdrum)"/>
<ellipse cx="719.3" cy="645.4" rx="97.8" ry="133.2" fill="#f3dfcc"/>
<ellipse cx="719.3" cy="657.4" rx="97.8" ry="133.2" fill="#f7eedb"/>
<path d="M640.8,462.0 L637.7,468.0 L634.9,474.0 L632.5,480.0 L630.4,486.0 L628.5,492.0 L626.8,498.0 L625.4,504.0 L624.3,510.0 L623.3,516.0 L622.5,522.0 L622.0,528.0 L621.7,534.0 L621.5,540.0 L621.5,541.4 L621.5,580.0" fill="none" stroke="#ecdfce" stroke-width="9" stroke-linejoin="round"/>
</g>
<path d="M528,649 L541,638 L580,605 L620,570 L641,555 L661,539.4 L700,512 L700,638 L528,649Z" fill="url(#gcan)"/>
<path d="M641,555.5 L661,540" stroke="#5d5248" stroke-width="1" fill="none"/>
<path d="M581,641 L644.7,592 L700,556 L700,562 L644.7,598 L590,641Z" fill="#e9b9a0"/>
<path d="M598,641 L644.7,601 L700,566 L700,588.4 L650,627 L631.6,641Z" fill="#8a6f5f"/>
<path d="M679,641 L700,629 L700,641Z" fill="#8a6f5f"/>
</g>
</svg>
</body></html>
